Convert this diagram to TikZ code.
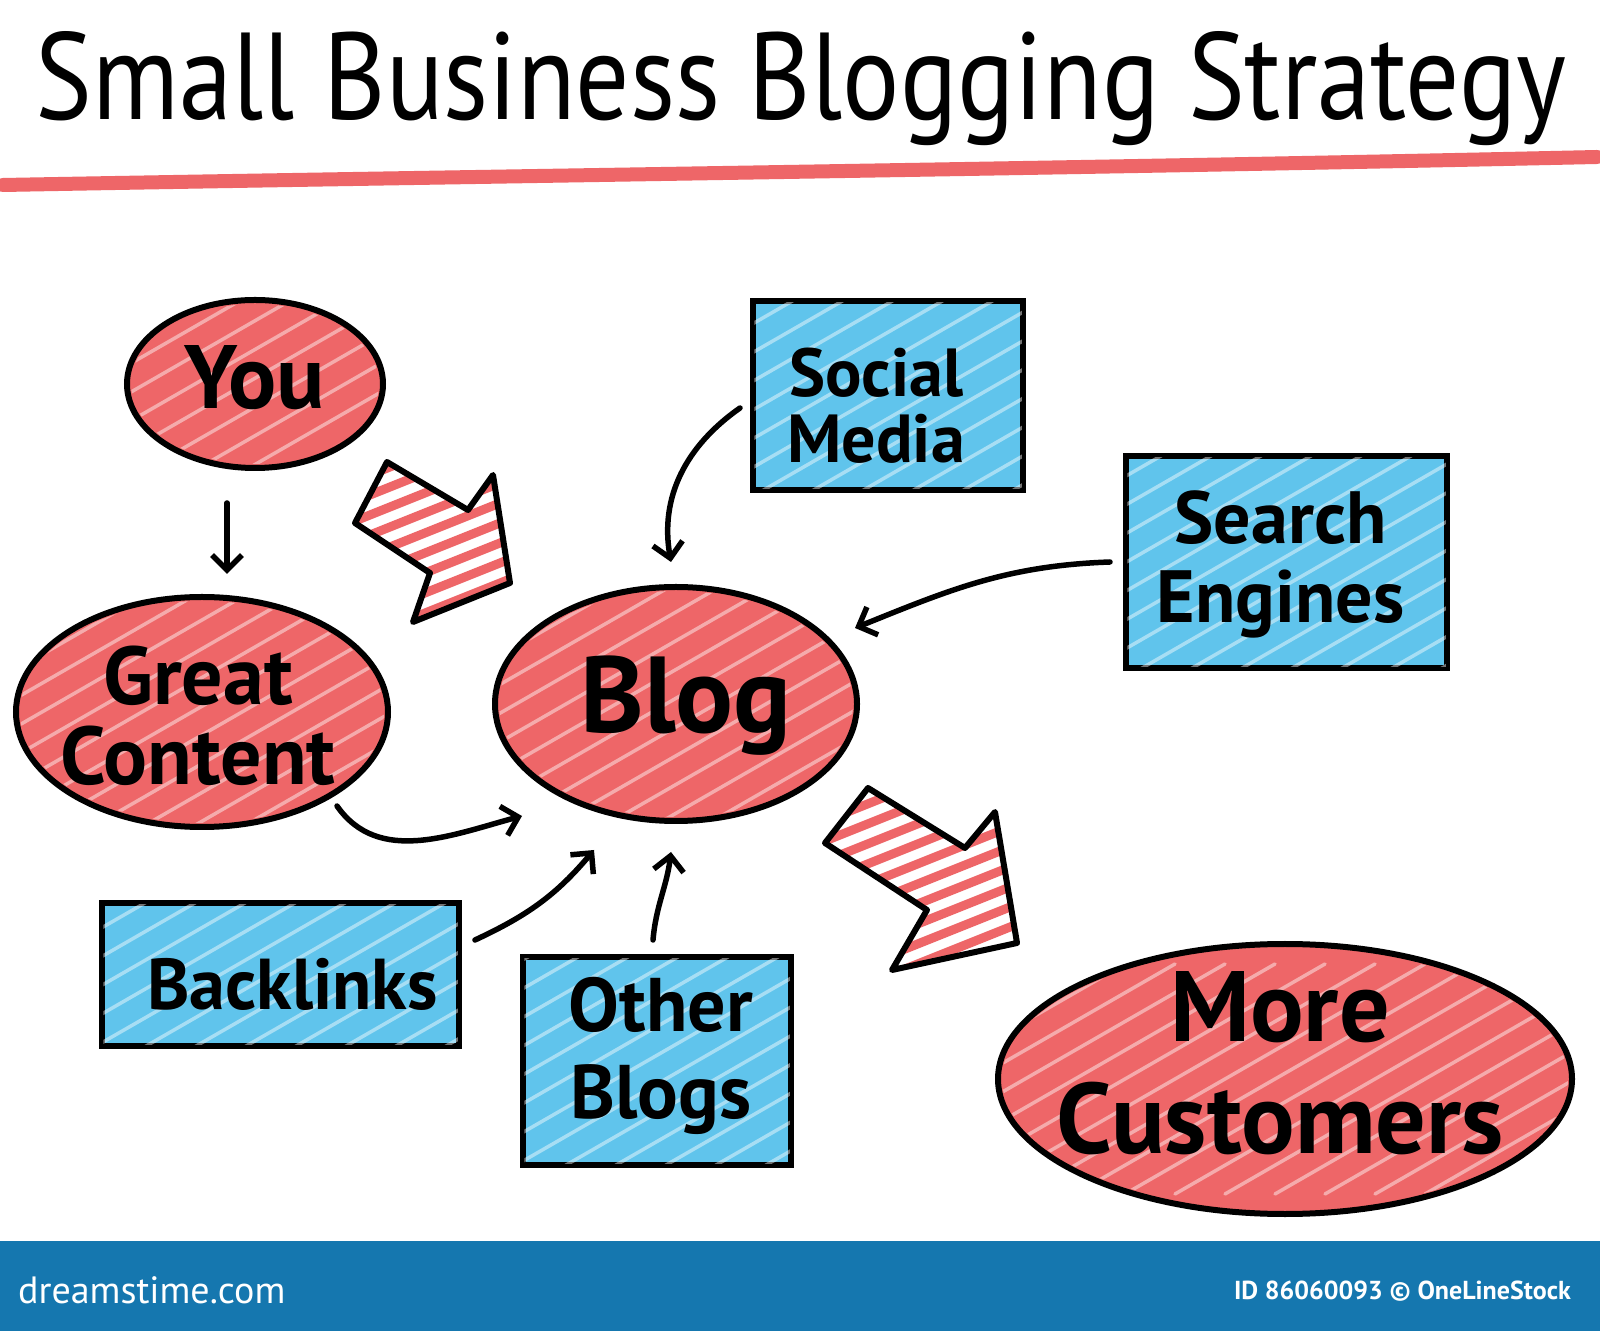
\documentclass[tikz,border=0pt]{standalone}
\usepackage{fontspec}
\setmainfont{PT Sans}
\usetikzlibrary{arrows.meta,calc,shapes.geometric}
\definecolor{mred}{RGB}{238,102,104}
\definecolor{mblue}{RGB}{96,196,236}
\definecolor{barblue}{RGB}{21,119,175}
\tikzset{
 conn/.style={line width=5.5pt, line cap=round, -{Straight Barb[length=15pt,width=30pt,line width=5.5pt]}},
 oval/.style={ellipse, draw=black, line width=6pt, fill=mred, inner sep=0pt},
 sbox/.style={rectangle, draw=black, line width=5.5pt, fill=mblue, inner sep=0pt},
 lbl/.style={align=center, inner sep=0pt, text=black},
 blk/.style={draw=black, line width=6pt, line join=round},
 stripe/.style={draw=mred, line width=9pt, line cap=round},
 streak/.style={draw=white, line width=3.5pt, opacity=0.45, line cap=round},
}
\newcommand\streakell[3]{\begin{scope}\clip (#1.center) ellipse [x radius=#2, y radius=#3];
 \foreach \k in {-360,-310,...,360} \draw[streak] ($(#1.center)+(\k,0)+(-200,-115)$) -- ++(400,230);
 \end{scope}}
\newcommand\streakbox[1]{\begin{scope}\clip ([shift={(4,4)}]#1.south west) rectangle ([shift={(-4,-4)}]#1.north east);
 \foreach \k in {-360,-310,...,360} \draw[streak] ($(#1.center)+(\k,0)+(-200,-115)$) -- ++(400,230);
 \end{scope}}
\begin{document}
\begin{tikzpicture}[x=1pt,y=1pt]
\useasboundingbox (0,0) rectangle (1600,1331);
\fill[white] (0,0) rectangle (1600,1331);
% title
\node[anchor=base, inner sep=0pt] (title) at (801,1211) {\resizebox{1530pt}{88pt}{Small Business Blogging Strategy}};
\draw[mred, line width=14pt, line cap=round] (3,1146) .. controls (500,1155) and (1100,1163) .. (1597,1174);
% shapes
\node[oval, minimum width=256pt, minimum height=168pt] (you) at (255,947) {};
\node[oval, minimum width=372pt, minimum height=230pt] (gc) at (202,619) {};
\node[oval, minimum width=362pt, minimum height=234pt] (blog) at (676,627) {};
\node[oval, minimum width=574pt, minimum height=270pt] (mc) at (1285,252) {};
\node[sbox, minimum width=270pt, minimum height=189pt] (sm) at (888,935.5) {};
\node[sbox, minimum width=321pt, minimum height=212pt] (se) at (1286.5,769) {};
\node[sbox, minimum width=357pt, minimum height=143pt] (bl) at (280.5,356.5) {};
\node[sbox, minimum width=268pt, minimum height=208pt] (ob) at (657,270) {};
\streakell{you}{124}{80}
\streakell{gc}{182}{111}
\streakell{blog}{177}{113}
\streakell{mc}{283}{131}
\streakbox{sm}\streakbox{se}\streakbox{bl}\streakbox{ob}
% labels
\node[lbl, font=\bfseries\fontsize{90}{90}\selectfont] (youT) at ([yshift=6pt]you.center) {You};
\node[lbl, font=\bfseries\fontsize{82}{80}\selectfont] (gcT) at ([xshift=-4pt,yshift=-4pt]gc.center) {Great\\Content};
\node[lbl, font=\bfseries\fontsize{108}{108}\selectfont] (blogT) at ([xshift=10pt,yshift=-2pt]blog.center) {Blog};
\node[lbl, font=\bfseries\fontsize{100}{112}\selectfont] (mcT) at ([xshift=-5pt,yshift=16pt]mc.center) {More\\Customers};
\node[lbl, font=\bfseries\fontsize{68}{66}\selectfont] (smT) at ([xshift=-12pt,yshift=-10pt]sm.center) {Social\\Media};
\node[lbl, font=\bfseries\fontsize{74}{79}\selectfont] (seT) at ([xshift=-6pt,yshift=-2pt]se.center) {Search\\Engines};
\node[lbl, font=\bfseries\fontsize{72}{72}\selectfont] (blT) at ([xshift=12pt,yshift=-10pt]bl.center) {Backlinks};
\node[lbl, font=\bfseries\fontsize{76}{87}\selectfont] (obT) at ([xshift=4pt,yshift=5pt]ob.center) {Other\\Blogs};
% connectors
\draw[conn] ([xshift=-28pt,yshift=-32pt]you.south) -- ([xshift=25pt,yshift=20pt]gc.north);
\draw[conn] ($(gc)+(135,-94)$) to[out=-55,in=195] ($(blog)+(-154,-112)$);
\draw[conn] ($(bl)+(194.5,34.5)$) to[out=25,in=230] ($(blog)+(-82,-146)$);
\draw[conn] ($(ob)+(-4,121)$) to[out=85,in=-97] ($(blog)+(-5,-148)$);
\draw[conn] ($(sm)+(-148,-12.5)$) to[out=215,in=100] ($(blog)+(-5,142)$);
\draw[conn] ($(se)+(-176.5,0)$) to[out=182,in=22] ($(blog)+(179,76)$);
% block arrow 1
\begin{scope}
\clip (387,869) -- (468,821) -- (493,856) -- (510,748) -- (413,709) -- (430,758) -- (355,808) -- cycle;
\foreach \b in {560,580,...,900} \draw[stripe] (330,\b) -- (540,\b+84);
\end{scope}
\draw[blk] (387,869) -- (468,821) -- (493,856) -- (510,748) -- (413,709) -- (430,758) -- (355,808) -- cycle;
% block arrow 2
\begin{scope}
\clip (868,543) -- (965,483) -- (995,519) -- (1017,388) -- (892,361) -- (927,421) -- (825,488) -- cycle;
\foreach \b in {240,260,...,560} \draw[stripe] (800,\b) -- (1040,\b+96);
\end{scope}
\draw[blk] (868,543) -- (965,483) -- (995,519) -- (1017,388) -- (892,361) -- (927,421) -- (825,488) -- cycle;
% bottom bar
\fill[barblue] (0,0) rectangle (1600,90);
\node[anchor=base west, text=white, inner sep=0pt, font=\fontsize{38}{38}\selectfont] (ds) at (18,28) {dreamstime.com};
\node[anchor=base east, text=white, inner sep=0pt, font=\bfseries\fontsize{26}{26}\selectfont] (id) at (1571,32) {ID 86060093 © OneLineStock};
\end{tikzpicture}
\end{document}
